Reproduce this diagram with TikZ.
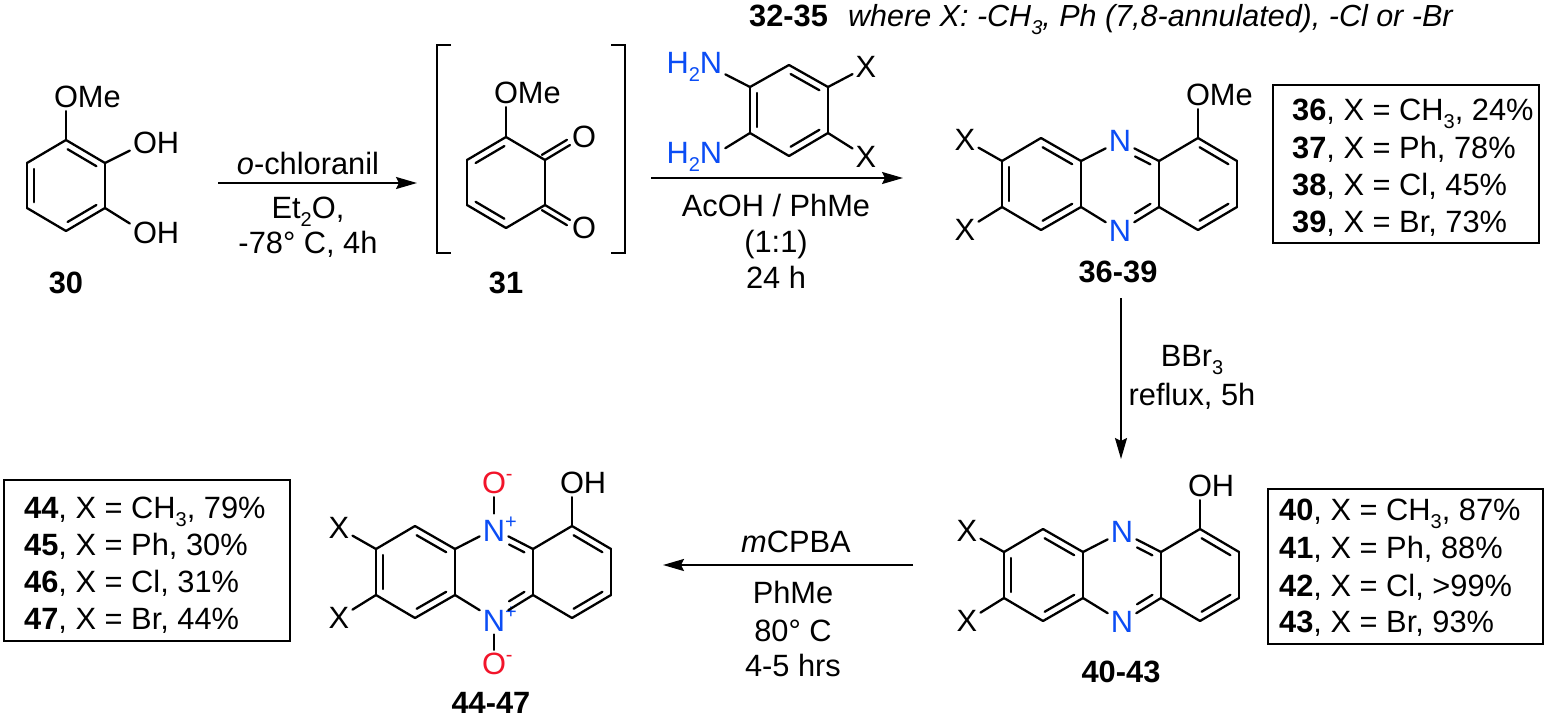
\documentclass[tikz,border=0pt]{standalone}
\usepackage{fontspec}
\setmainfont{Liberation Sans}
\usetikzlibrary{calc,arrows.meta}
\definecolor{nblue}{HTML}{0B4DF5}
\definecolor{ored}{HTML}{F2142A}
\newcommand{\lsub}[1]{\raisebox{-.26em}{\fontsize{20}{20}\selectfont #1}}
\newcommand{\lsup}[1]{\raisebox{.42em}{\fontsize{20}{20}\selectfont #1}}
\newcommand{\innerb}[3]{\draw[bond] ($(#1)!.05!(#2)!.18!(#3)$) -- ($(#2)!.05!(#1)!.18!(#3)$);}
\newcommand{\dblb}[3]{\draw[bond] (#1) -- (#2); \innerb{#1}{#2}{#3}}
\tikzset{
  bond/.style={line width=2.3pt,line cap=round,black},
  atom/.style={inner sep=3pt,font=\chemfont,text=black},
  natom/.style={atom,text=nblue},
  oatom/.style={atom,text=ored},
  lab/.style={anchor=base,inner sep=0pt,font=\chemfont},
  rowl/.style={anchor=base west,inner sep=0pt,font=\chemfont},
  rxn/.style={line width=2pt,-{Stealth[length=21pt,width=12pt,inset=3pt]}},
  tbl/.style={draw,line width=2.2pt,fill=none}
}
\newcommand{\chemfont}{\fontsize{30.8}{32}\selectfont}
% phenazine skeleton: #1 prefix, #2 #3 centre, #4 top N text, #5 bottom N text
\newcommand{\phenazine}[5]{%
 \begin{scope}[shift={(#2,#3)}]
  \coordinate (#1ul) at (-118,-23); \coordinate (#1t1) at (-79,-46);
  \coordinate (#1su) at (-39,-23);  \coordinate (#1sv) at (39,-23);
  \coordinate (#1t2) at (78,-46);   \coordinate (#1ur) at (117,-23);
  \coordinate (#1lr) at (117,23);   \coordinate (#1b2) at (78,46);
  \coordinate (#1sw) at (39,23);    \coordinate (#1sl) at (-39,23);
  \coordinate (#1b1) at (-79,46);   \coordinate (#1ll) at (-118,23);
  \coordinate (#1cl) at (-79,0);    \coordinate (#1m) at (0,0); \coordinate (#1cr) at (78,0);
  \node[natom] (#1na) at (0,-43) {#4};
  \node[natom] (#1nb) at (0,47) {#5};
  \node[atom] (#1xa) at (-155,-44) {X};
  \node[atom] (#1xb) at (-155,46) {X};
 \end{scope}
 \draw[bond] (#1ul) -- (#1ll);
 \innerb{#1ul}{#1ll}{#1cl}
 \draw[bond] (#1ul) -- (#1t1); \dblb{#1t1}{#1su}{#1cl}
 \draw[bond] (#1su) -- (#1sl); \dblb{#1sl}{#1b1}{#1cl}
 \draw[bond] (#1b1) -- (#1ll);
 \draw[bond] (#1su) -- (#1na); \draw[bond] (#1sl) -- (#1nb);
 \draw[bond] (#1na) -- (#1sv); \draw[bond] (#1nb) -- (#1sw);
 \draw[bond] ($(#1na)!.47!(#1sv)!.18!(#1m)$) -- ($(#1sv)!.05!(#1na)!.18!(#1m)$);
 \draw[bond] ($(#1nb)!.47!(#1sw)!.18!(#1m)$) -- ($(#1sw)!.05!(#1nb)!.18!(#1m)$);
 \draw[bond] (#1sv) -- (#1sw);
 \draw[bond] (#1sv) -- (#1t2); \dblb{#1t2}{#1ur}{#1cr}
 \draw[bond] (#1ur) -- (#1lr); \dblb{#1lr}{#1b2}{#1cr}
 \draw[bond] (#1b2) -- (#1sw);
 \draw[bond] (#1ul) -- (#1xa); \draw[bond] (#1ll) -- (#1xb);
}
\begin{document}
\begin{tikzpicture}[x=1pt,y=-1pt]
\useasboundingbox (0,0) rectangle (1548,717);
\fill[white] (0,0) rectangle (1548,717);

% ---- 30
\coordinate (a1) at (66,140); \coordinate (a2) at (105,163); \coordinate (a3) at (105,208);
\coordinate (a4) at (66,231); \coordinate (a5) at (27,208); \coordinate (a6) at (27,163);
\coordinate (ac) at (66,186);
\node[atom] (aome) at (66,97) {O\rlap{Me}};
\node[atom] (aoh1) at (145,143) {O\rlap{H}};
\node[atom] (aoh2) at (145,233) {O\rlap{H}};
\dblb{a1}{a2}{ac} \draw[bond] (a2) -- (a3); \dblb{a3}{a4}{ac}
\draw[bond] (a4) -- (a5); \dblb{a5}{a6}{ac} \draw[bond] (a6) -- (a1);
\draw[bond] (a1) -- (aome); \draw[bond] (a2) -- (aoh1); \draw[bond] (a3) -- (aoh2);
\node[lab,font=\chemfont\bfseries] (l30) at (66,293) {30};

% ---- arrow 1
\coordinate (r1s) at (218,183); \coordinate (r1e) at (417,183);
\draw[rxn] (r1s) -- (r1e);
\node[lab] (t1a) at (308,174) {\textit{o}-chloranil};
\node[lab] (t1b) at (308,218) {Et\lsub{2}O,};
\node[lab] (t1c) at (308,253) {-78° C, 4h};

% ---- 31
\coordinate (b1) at (506,137); \coordinate (b2) at (545,160); \coordinate (b3) at (545,205);
\coordinate (b4) at (506,228); \coordinate (b5) at (467,205); \coordinate (b6) at (467,160);
\coordinate (bc) at (506,182);
\node[atom] (bome) at (506,93) {O\rlap{Me}};
\node[atom] (bo1) at (584,137) {O};
\node[atom] (bo2) at (584,228) {O};
\draw[bond] (b1) -- (b2); \draw[bond] (b2) -- (b3); \draw[bond] (b3) -- (b4);
\dblb{b4}{b5}{bc} \draw[bond] (b5) -- (b6); \dblb{b6}{b1}{bc}
\draw[bond] (b1) -- (bome);
\coordinate (bq1) at (570,145); \coordinate (bq2) at (570,220);
\draw[bond] (b2) -- (bq1);
\draw[bond] ($(b2)!6pt!90:(bq1)$) -- ($(bq1)!6pt!-90:(b2)$);
\draw[bond] (b3) -- (bq2);
\draw[bond] ($(b3)!6pt!-90:(bq2)$) -- ($(bq2)!6pt!90:(b3)$);
\node[lab,font=\chemfont\bfseries] (l31) at (506,293) {31};
\coordinate (bl1) at (451,45); \coordinate (bl2) at (437,45); \coordinate (bl3) at (437,253); \coordinate (bl4) at (451,253);
\draw[line width=2.2pt] (bl1) -- (bl2) -- (bl3) -- (bl4);
\coordinate (br1) at (611,45); \coordinate (br2) at (625,45); \coordinate (br3) at (625,253); \coordinate (br4) at (611,253);
\draw[line width=2.2pt] (br1) -- (br2) -- (br3) -- (br4);

% ---- top caption
\node[rowl,font=\chemfont\bfseries] (l32) at (749,27) {32-35};
\node[rowl,font=\fontsize{30.5}{32}\selectfont] (cap) at (848,27) {\itshape where X: -CH\lsub{3}, Ph (7,8-annulated), -Cl or -Br};

% ---- diamine
\coordinate (d1) at (789,65); \coordinate (d2) at (828,87); \coordinate (d3) at (828,133);
\coordinate (d4) at (789,156); \coordinate (d5) at (750,133); \coordinate (d6) at (750,87);
\coordinate (dc) at (789,110);
\node[natom] (dn1) at (711,67) {\llap{H\lsub{2}}N};
\node[natom] (dn2) at (711,157) {\llap{H\lsub{2}}N};
\node[atom] (dx1) at (866,67) {X};
\node[atom] (dx2) at (866,157) {X};
\draw[bond] (d6) -- (d1); \dblb{d1}{d2}{dc} \draw[bond] (d2) -- (d3);
\dblb{d3}{d4}{dc} \draw[bond] (d4) -- (d5); \dblb{d5}{d6}{dc}
\draw[bond] (d6) -- (dn1); \draw[bond] (d5) -- (dn2);
\draw[bond] (d2) -- (dx1); \draw[bond] (d3) -- (dx2);

% ---- arrow 2
\coordinate (r2s) at (651,178); \coordinate (r2e) at (903,178);
\draw[rxn] (r2s) -- (r2e);
\node[lab] (t2a) at (776,216) {AcOH / PhMe};
\node[lab] (t2b) at (776,252) {(1:1)};
\node[lab] (t2c) at (776,288) {24 h};

% ---- 36-39
\phenazine{e}{1120}{184}{N}{N}
\node[atom] (eome) at (1198,95) {O\rlap{Me}};
\draw[bond] (et2) -- (eome);
\node[lab,font=\chemfont\bfseries] (l36) at (1118,282) {36-39};
\coordinate (b1nw) at (1273,85); \coordinate (b1se) at (1539,243);
\draw[tbl] (b1nw) rectangle (b1se);
\node[rowl] (r36) at (1292,120) {\textbf{36}, X = CH\lsub{3}, 24\%};
\node[rowl] (r37) at (1292,158) {\textbf{37}, X = Ph, 78\%};
\node[rowl] (r38) at (1292,195) {\textbf{38}, X = Cl, 45\%};
\node[rowl] (r39) at (1292,232) {\textbf{39}, X = Br, 73\%};

% ---- arrow 3
\coordinate (r3s) at (1121,298); \coordinate (r3e) at (1121,459);
\draw[rxn] (r3s) -- (r3e);
\node[lab] (t3a) at (1192,366) {BBr\lsub{3}};
\node[lab] (t3b) at (1192,405) {reflux, 5h};

% ---- 40-43
\phenazine{f}{1122}{575}{N}{N}
\node[atom] (foh) at (1200,486) {O\rlap{H}};
\draw[bond] (ft2) -- (foh);
\node[lab,font=\chemfont\bfseries] (l40) at (1121,682) {40-43};
\coordinate (b2nw) at (1268,489); \coordinate (b2se) at (1543,644);
\draw[tbl] (b2nw) rectangle (b2se);
\node[rowl] (r40) at (1279,520) {\textbf{40}, X = CH\lsub{3}, 87\%};
\node[rowl] (r41) at (1279,558) {\textbf{41}, X = Ph, 88\%};
\node[rowl] (r42) at (1279,596) {\textbf{42}, X = Cl, >99\%};
\node[rowl] (r43) at (1279,632) {\textbf{43}, X = Br, 93\%};

% ---- arrow 4
\coordinate (r4s) at (913,565); \coordinate (r4e) at (663,565);
\draw[rxn] (r4s) -- (r4e);
\node[lab] (t4a) at (796,552) {\textit{m}CPBA};
\node[lab] (t4b) at (793,603) {PhMe};
\node[lab] (t4c) at (793,641) {80° C};
\node[lab] (t4d) at (793,676) {4-5 hrs};

% ---- 44-47
\phenazine{g}{494}{572}{N\rlap{\lsup{+}}}{N\rlap{\lsup{+}}}
\node[atom] (goh) at (572,483) {O\rlap{H}};
\draw[bond] (gt2) -- (goh);
\node[oatom] (gox1) at (494,483) {O\rlap{\lsup{-}}};
\node[oatom] (gox2) at (494,664) {O\rlap{\lsup{-}}};
\draw[bond] (gna) -- (gox1); \draw[bond] (gnb) -- (gox2);
\node[lab,font=\chemfont\bfseries] (l44) at (491,713) {44-47};
\coordinate (b3nw) at (4,480); \coordinate (b3se) at (290,641);
\draw[tbl] (b3nw) rectangle (b3se);
\node[rowl] (r44) at (24,518) {\textbf{44}, X = CH\lsub{3}, 79\%};
\node[rowl] (r45) at (24,555) {\textbf{45}, X = Ph, 30\%};
\node[rowl] (r46) at (24,592) {\textbf{46}, X = Cl, 31\%};
\node[rowl] (r47) at (24,629) {\textbf{47}, X = Br, 44\%};
\end{tikzpicture}
\end{document}
